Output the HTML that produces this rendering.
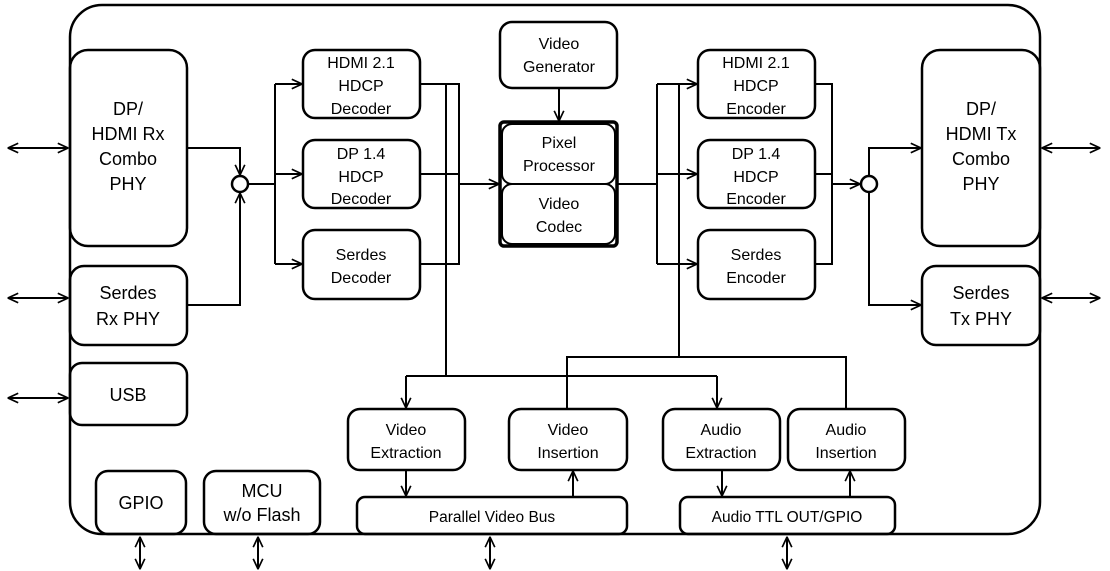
<!DOCTYPE html>
<html><head><meta charset="utf-8"><style>
html,body{margin:0;padding:0;background:#fff;}
svg{display:block;}
text{font-family:"Liberation Sans",sans-serif;font-size:16px;fill:#000;text-anchor:middle;}
.b{font-size:18px;}
</style></head><body>
<svg width="1110" height="571" viewBox="0 0 1110 571" xmlns="http://www.w3.org/2000/svg">
<defs>
<marker id="a" viewBox="0 0 10 10" refX="9.5" refY="5" markerWidth="12" markerHeight="12" markerUnits="userSpaceOnUse" orient="auto-start-reverse">
<path d="M1,1 L9.5,5 L1,9" fill="none" stroke="#000" stroke-width="1.4"/></marker>
</defs>
<g fill="none" stroke="#000" stroke-width="2.5">
<rect x="70" y="5" width="970" height="529" rx="32"/>
<rect x="70" y="50" width="117" height="196" rx="18"/>
<rect x="70" y="266" width="117" height="79" rx="14"/>
<rect x="70" y="363" width="117" height="62" rx="12"/>
<rect x="96" y="471" width="90" height="63" rx="12"/>
<rect x="204" y="471" width="116" height="63" rx="12"/>
<rect x="303" y="50" width="117" height="68" rx="12"/>
<rect x="303" y="140" width="117" height="68" rx="12"/>
<rect x="303" y="230" width="117" height="69" rx="12"/>
<rect x="500" y="22" width="117" height="66" rx="12"/>
<rect x="500" y="122" width="117" height="124" rx="4" stroke-width="3.5"/>
<rect x="502" y="124" width="113" height="60" rx="10" stroke-width="2"/>
<rect x="502" y="184" width="113" height="60" rx="10" stroke-width="2"/>
<rect x="698" y="50" width="117" height="68" rx="12"/>
<rect x="698" y="140" width="117" height="68" rx="12"/>
<rect x="698" y="230" width="117" height="69" rx="12"/>
<rect x="922" y="50" width="118" height="196" rx="18"/>
<rect x="922" y="266" width="118" height="79" rx="14"/>
<rect x="348" y="409" width="117" height="61" rx="12"/>
<rect x="509" y="409" width="118" height="61" rx="12"/>
<rect x="663" y="409" width="117" height="61" rx="12"/>
<rect x="788" y="409" width="117" height="61" rx="12"/>
<rect x="357" y="497" width="270" height="37" rx="8"/>
<rect x="680" y="497" width="215" height="37" rx="8"/>
<circle cx="240" cy="184" r="8"/>
<circle cx="869" cy="184" r="8"/>
</g>
<g fill="none" stroke="#000" stroke-width="2">
<path d="M8,148 H68" marker-start="url(#a)" marker-end="url(#a)"/>
<path d="M8,298 H68" marker-start="url(#a)" marker-end="url(#a)"/>
<path d="M8,398 H68" marker-start="url(#a)" marker-end="url(#a)"/>
<path d="M1042,148 H1100" marker-start="url(#a)" marker-end="url(#a)"/>
<path d="M1042,298 H1100" marker-start="url(#a)" marker-end="url(#a)"/>
<path d="M140,537 V569" marker-start="url(#a)" marker-end="url(#a)"/>
<path d="M258,537 V569" marker-start="url(#a)" marker-end="url(#a)"/>
<path d="M490,537 V569" marker-start="url(#a)" marker-end="url(#a)"/>
<path d="M787,537 V569" marker-start="url(#a)" marker-end="url(#a)"/>
<path d="M187,148 H240 V175" marker-end="url(#a)"/>
<path d="M187,305 H240 V193" marker-end="url(#a)"/>
<path d="M248,184 H275"/>
<path d="M275,84 V264"/>
<path d="M275,84 H302" marker-end="url(#a)"/>
<path d="M275,174 H302" marker-end="url(#a)"/>
<path d="M275,264 H302" marker-end="url(#a)"/>
<path d="M420,84 H459 V264 H420"/>
<path d="M420,174 H459"/>
<path d="M446,84 V376"/>
<path d="M459,184 H499" marker-end="url(#a)"/>
<path d="M559,88 V121" marker-end="url(#a)"/>
<path d="M617,184 H657"/>
<path d="M657,84 V264"/>
<path d="M657,84 H697" marker-end="url(#a)"/>
<path d="M657,174 H697" marker-end="url(#a)"/>
<path d="M657,264 H697" marker-end="url(#a)"/>
<path d="M679,84 V357"/>
<path d="M815,84 H832 V264 H815"/>
<path d="M815,174 H832"/>
<path d="M832,184 H860" marker-end="url(#a)"/>
<path d="M869,176 V148 H921" marker-end="url(#a)"/>
<path d="M869,192 V305 H921" marker-end="url(#a)"/>
<path d="M406,376 H717"/>
<path d="M406,376 V408" marker-end="url(#a)"/>
<path d="M717,376 V408" marker-end="url(#a)"/>
<path d="M567,409 V357 H846 V409"/>
<path d="M406,470 V496" marker-end="url(#a)"/>
<path d="M573,497 V471" marker-end="url(#a)"/>
<path d="M722,470 V496" marker-end="url(#a)"/>
<path d="M850,497 V471" marker-end="url(#a)"/>
</g>
<text class="b" x="128" y="115">DP/</text>
<text class="b" x="128" y="140">HDMI Rx</text>
<text class="b" x="128" y="165">Combo</text>
<text class="b" x="128" y="190">PHY</text>
<text class="b" x="128" y="299">Serdes</text>
<text class="b" x="128" y="325">Rx PHY</text>
<text class="b" x="128" y="401">USB</text>
<text class="b" x="141" y="509">GPIO</text>
<text class="b" x="262" y="497">MCU</text>
<text class="b" x="262" y="521">w/o Flash</text>
<text x="361" y="68">HDMI 2.1</text><text x="361" y="91">HDCP</text><text x="361" y="114">Decoder</text>
<text x="361" y="159">DP 1.4</text><text x="361" y="182">HDCP</text><text x="361" y="204">Decoder</text>
<text x="361" y="260">Serdes</text><text x="361" y="283">Decoder</text>
<text x="559" y="49">Video</text><text x="559" y="72">Generator</text>
<text x="559" y="148">Pixel</text><text x="559" y="171">Processor</text>
<text x="559" y="209">Video</text><text x="559" y="232">Codec</text>
<text x="756" y="68">HDMI 2.1</text><text x="756" y="91">HDCP</text><text x="756" y="114">Encoder</text>
<text x="756" y="159">DP 1.4</text><text x="756" y="182">HDCP</text><text x="756" y="204">Encoder</text>
<text x="756" y="260">Serdes</text><text x="756" y="283">Encoder</text>
<text class="b" x="981" y="115">DP/</text>
<text class="b" x="981" y="140">HDMI Tx</text>
<text class="b" x="981" y="165">Combo</text>
<text class="b" x="981" y="190">PHY</text>
<text class="b" x="981" y="299">Serdes</text>
<text class="b" x="981" y="325">Tx PHY</text>
<text x="406" y="435">Video</text><text x="406" y="458">Extraction</text>
<text x="568" y="435">Video</text><text x="568" y="458">Insertion</text>
<text x="721" y="435">Audio</text><text x="721" y="458">Extraction</text>
<text x="846" y="435">Audio</text><text x="846" y="458">Insertion</text>
<text x="492" y="522" style="font-size:15.5px">Parallel Video Bus</text>
<text x="787" y="522" style="font-size:15.5px">Audio TTL OUT/GPIO</text>
</svg>
</body></html>
